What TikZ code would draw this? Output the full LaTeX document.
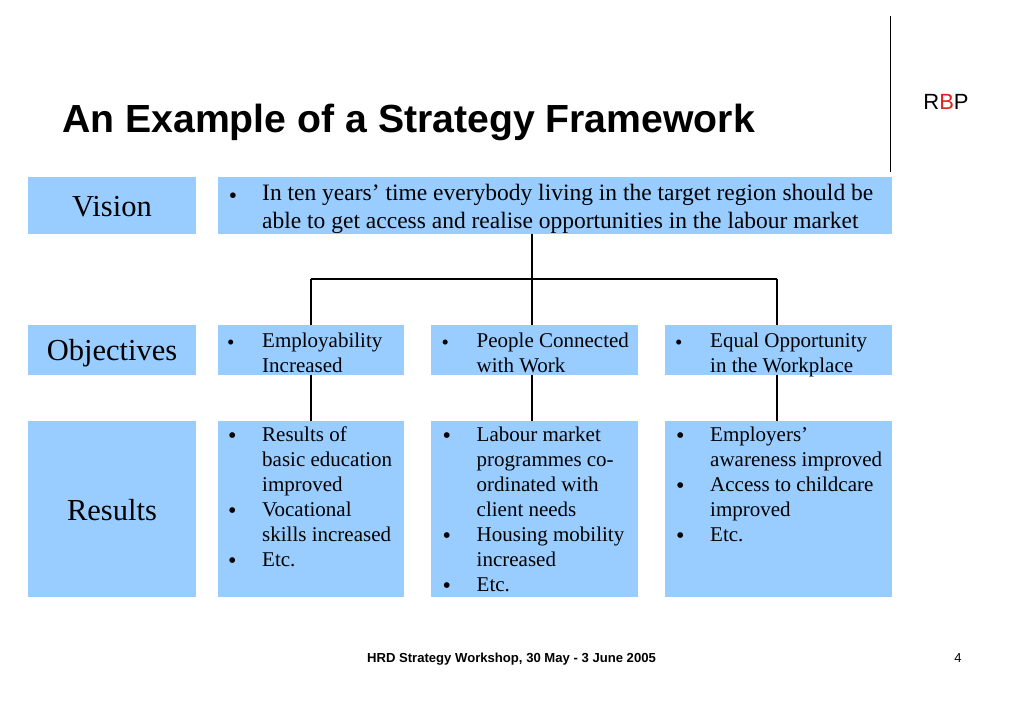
\documentclass[tikz,border=0pt]{standalone}
\usepackage{fontspec}
\setmainfont{Liberation Serif}
\setsansfont{Liberation Sans}
\definecolor{boxblue}{HTML}{99CCFF}
\definecolor{rbpred}{HTML}{E41E1E}
% small bullet (objectives), big bullet (results), indent
\newcommand{\bsm}{\makebox[34pt][l]{\hspace{-1pt}\smash{\raisebox{-2.3pt}{•}}}}
\newcommand{\bbg}{\makebox[34pt][l]{\smash{\raisebox{-2.4pt}{\fontsize{24}{25}\selectfont •}}}}
\newcommand{\bvs}{\makebox[34pt][l]{\hspace{0.6pt}\smash{\raisebox{-3pt}{•}}}}
\newcommand{\bsk}{\hspace*{34pt}}
\begin{document}
\begin{tikzpicture}[x=1pt,y=-1pt,
  panel/.style={fill=boxblue,draw=none},
  label/.style={font=\fontsize{30.5}{34}\selectfont,inner sep=0},
  body/.style={anchor=base west,inner sep=0,font=\fontsize{21}{25}\selectfont},
  vbody/.style={anchor=base west,inner sep=0,font=\fontsize{23.5}{27.5}\selectfont},
  link/.style={draw=black,line width=1.2pt}]
\useasboundingbox (0,0) rectangle (1023,708);
% title & header
\node[anchor=base west,inner sep=0,font=\sffamily\bfseries\fontsize{39.2}{44}\selectfont] (title) at (62,132.5) {An Example of a Strategy Framework};
\draw[line width=1.3pt] (890.5,16) coordinate (hl1) -- (890.5,172.5) coordinate (hl2);
\node[anchor=base,inner sep=0,font=\sffamily\fontsize{22}{24}\selectfont] (rbp) at (946,110) {R\textcolor{rbpred}{B}P};
% panels
\path[panel] (28,177) rectangle (196,234);
\path[panel] (218,177) rectangle (892,234);
\path[panel] (28,325) rectangle (196,375);
\path[panel] (218,325) rectangle (404,375);
\path[panel] (431,325) rectangle (638,375);
\path[panel] (665,325) rectangle (892,375);
\path[panel] (28,421) rectangle (196,597);
\path[panel] (218,421) rectangle (404,597);
\path[panel] (431,421) rectangle (638,597);
\path[panel] (665,421) rectangle (892,597);
% anchor coordinates for connectors
\coordinate (vb) at (532,234);
\coordinate (jn) at (532,279);
\coordinate (jl) at (311,279);
\coordinate (jr) at (777,279);
\coordinate (o1t) at (311,325);
\coordinate (o2t) at (532,325);
\coordinate (o3t) at (777,325);
\coordinate (o1b) at (311,375);
\coordinate (o2b) at (532,375);
\coordinate (o3b) at (777,375);
\coordinate (r1t) at (311,421);
\coordinate (r2t) at (532,421);
\coordinate (r3t) at (777,421);
\draw[link] (vb) -- (jn);
\draw[link] (jl) -- (jr);
\draw[link] (jl) -- (o1t);
\draw[link] (jn) -- (o2t);
\draw[link] (jr) -- (o3t);
\draw[link] (o1b) -- (r1t);
\draw[link] (o2b) -- (r2t);
\draw[link] (o3b) -- (r3t);
% labels
\node[label] (vision) at (112,206.5) {Vision};
\node[label,anchor=base] (objectives) at (112,361) {Objectives};
\node[label] (results) at (112,510.5) {Results};
% vision text
\node[vbody] (vtext) at (228,201) {\begin{tabular}[t]{@{}l@{}}\bvs In ten years’ time everybody living in the target region should be\\\bsk able to get access and realise opportunities in the labour market\end{tabular}};
% objectives
\node[body] (obj1) at (228,347.5) {\begin{tabular}[t]{@{}l@{}}\bsm Employability\\\bsk Increased\end{tabular}};
\node[body] (obj2) at (442.5,347.5) {\begin{tabular}[t]{@{}l@{}}\bsm People Connected\\\bsk with Work\end{tabular}};
\node[body] (obj3) at (676,347.5) {\begin{tabular}[t]{@{}l@{}}\bsm Equal Opportunity\\\bsk in the Workplace\end{tabular}};
% results
\node[body] (res1) at (228,441.5) {\begin{tabular}[t]{@{}l@{}}\bbg Results of\\\bsk basic education\\\bsk improved\\\bbg Vocational\\\bsk skills increased\\\bbg Etc.\end{tabular}};
\node[body] (res2) at (442.5,441.5) {\begin{tabular}[t]{@{}l@{}}\bbg Labour market\\\bsk programmes co-\\\bsk ordinated with\\\bsk client needs\\\bbg Housing mobility\\\bsk increased\\\bbg Etc.\end{tabular}};
\node[body] (res3) at (676,441.5) {\begin{tabular}[t]{@{}l@{}}\bbg Employers’\\\bsk awareness improved\\\bbg Access to childcare\\\bsk improved\\\bbg Etc.\end{tabular}};
% footer
\node[anchor=base,inner sep=0,font=\sffamily\bfseries\fontsize{13.1}{15}\selectfont] (footer) at (511.5,662) {HRD Strategy Workshop, 30 May - 3 June 2005};
\node[anchor=base,inner sep=0,font=\sffamily\fontsize{13}{15}\selectfont] (pagenum) at (958,662) {4};
\end{tikzpicture}
\end{document}
